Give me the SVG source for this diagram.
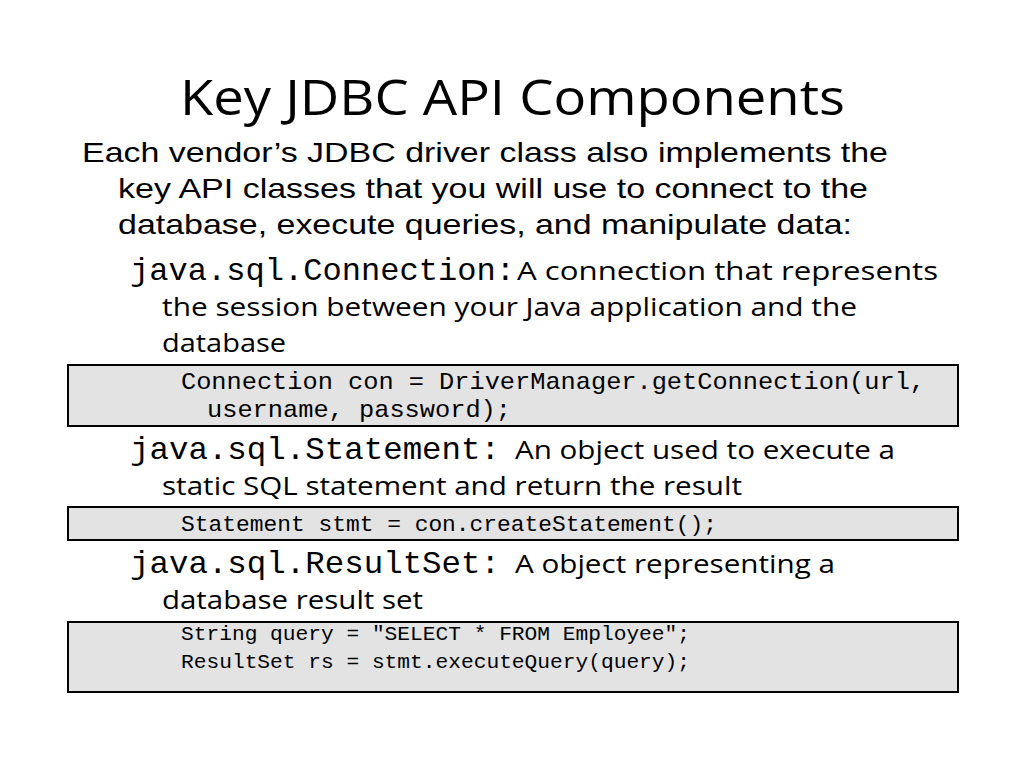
<svg xmlns="http://www.w3.org/2000/svg" width="1024" height="768" viewBox="0 0 1024 768">
<style>
.t{font-family:"Open Sans","Liberation Sans",sans-serif;fill:#000}
.a{font-family:"Liberation Sans",Arial,sans-serif;font-size:28px;fill:#000}
.m{font-family:"Liberation Mono","Courier New",monospace;fill:#000}
.c{font-family:"Open Sans","Liberation Sans",sans-serif;font-size:26px;fill:#000}
.box{fill:#e3e3e3;stroke:#000;stroke-width:2}
</style>
<rect width="1024" height="768" fill="#fff"/>
<text class="t" x="180" y="115" font-size="50" textLength="665" lengthAdjust="spacingAndGlyphs">Key JDBC API Components</text>
<text class="a" x="82" y="162" textLength="806" lengthAdjust="spacingAndGlyphs">Each vendor’s JDBC driver class also implements the</text>
<text class="a" x="118" y="198" textLength="750" lengthAdjust="spacingAndGlyphs">key API classes that you will use to connect to the</text>
<text class="a" x="118" y="234" textLength="734" lengthAdjust="spacingAndGlyphs">database, execute queries, and manipulate data:</text>

<text class="m" x="130" y="280" font-size="32" textLength="385" lengthAdjust="spacingAndGlyphs">java.sql.Connection:</text>
<text class="c" x="517" y="280" textLength="421" lengthAdjust="spacingAndGlyphs">A connection that represents</text>
<text class="c" x="162" y="316" textLength="695" lengthAdjust="spacingAndGlyphs">the session between your Java application and the</text>
<text class="c" x="162" y="352" textLength="124" lengthAdjust="spacingAndGlyphs">database</text>
<rect class="box" x="68" y="365" width="890" height="61"/>
<text class="m" x="181" y="389" font-size="24" textLength="744" lengthAdjust="spacingAndGlyphs">Connection con = DriverManager.getConnection(url,</text>
<text class="m" x="207" y="417" font-size="24" textLength="304" lengthAdjust="spacingAndGlyphs">username, password);</text>

<text class="m" x="130" y="459" font-size="32" textLength="370" lengthAdjust="spacingAndGlyphs">java.sql.Statement:</text>
<text class="c" x="515" y="459" textLength="380" lengthAdjust="spacingAndGlyphs">An object used to execute a</text>
<text class="c" x="162" y="495" textLength="580" lengthAdjust="spacingAndGlyphs">static SQL statement and return the result</text>
<rect class="box" x="68" y="507" width="890" height="33"/>
<text class="m" x="181" y="531" font-size="22" textLength="536" lengthAdjust="spacingAndGlyphs">Statement stmt = con.createStatement();</text>

<text class="m" x="130" y="573" font-size="32" textLength="370" lengthAdjust="spacingAndGlyphs">java.sql.ResultSet:</text>
<text class="c" x="515" y="573" textLength="320" lengthAdjust="spacingAndGlyphs">A object representing a</text>
<text class="c" x="162" y="609" textLength="261" lengthAdjust="spacingAndGlyphs">database result set</text>
<rect class="box" x="68" y="622" width="890" height="70"/>
<text class="m" x="181" y="640" font-size="20" textLength="509" lengthAdjust="spacingAndGlyphs">String query = "SELECT * FROM Employee";</text>
<text class="m" x="181" y="668" font-size="20" textLength="509" lengthAdjust="spacingAndGlyphs">ResultSet rs = stmt.executeQuery(query);</text>
</svg>
